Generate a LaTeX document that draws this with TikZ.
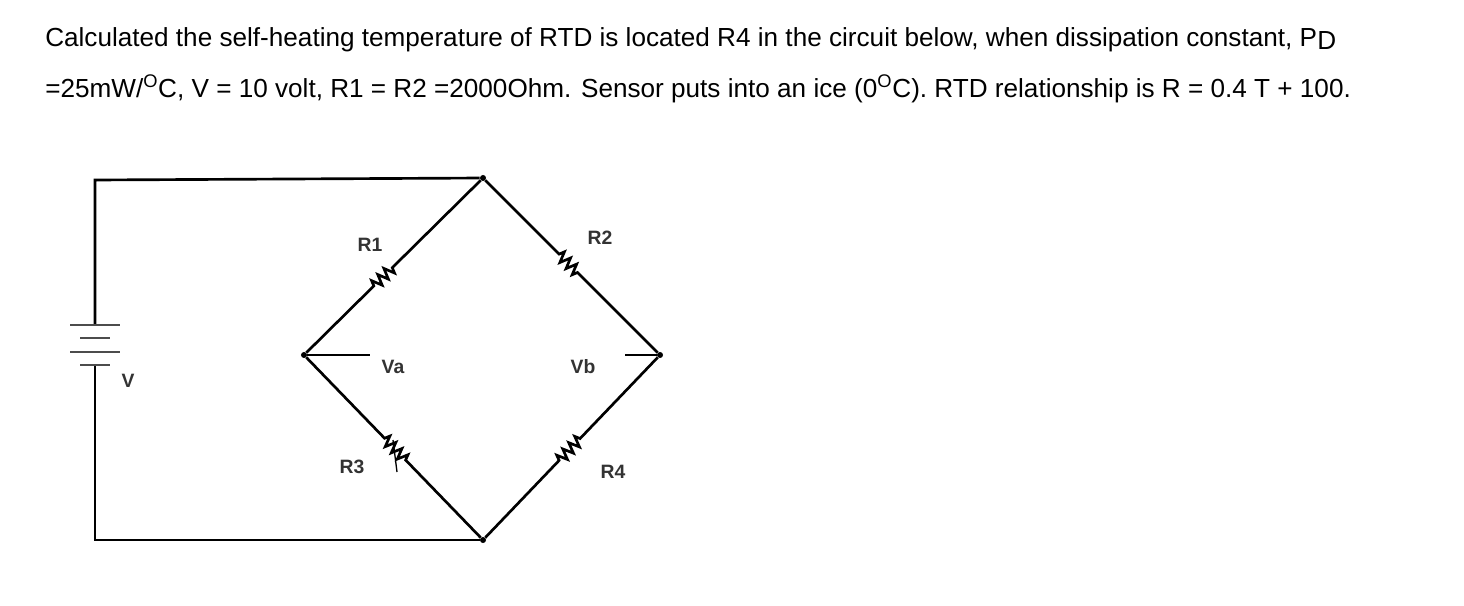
\documentclass[tikz,border=0pt]{standalone}
\usepackage{fontspec}
\setmainfont{Liberation Sans}
\usetikzlibrary{calc,decorations.pathmorphing}
\begin{document}
\begin{tikzpicture}[x=0.75pt,y=-0.75pt,
  w/.style={line width=2pt},
  zz/.style={decorate,decoration={zigzag,segment length=6.5pt,amplitude=4pt}},
  dot/.style={circle,fill,inner sep=1.6pt},
  lbl/.style={font=\fontsize{14.5}{16}\selectfont\bfseries,text=black!80},
  txt/.style={font=\fontsize{19.6}{22}\selectfont,anchor=west,inner sep=0}]
\useasboundingbox (0,0) rectangle (1464,606);
\node[txt] (l1) at (45,40) {Calculated the self-heating temperature of RTD is located R4 in the circuit below, when dissipation constant, P\raisebox{-0.2ex}{D}};
\node[txt] (l2) at (45,89) {=25mW/\textsuperscript{O}C, V = 10 volt, R1 = R2 =2000Ohm. Sensor puts into an ice (0\textsuperscript{O}C). RTD relationship is R = 0.4 T + 100.};
\node[dot] (t) at (483,178) {};
\node[dot] (l) at (304,355) {};
\node[dot] (r) at (660,355) {};
\node[dot] (b) at (483,540) {};
\coordinate (c1) at (95,180);
\coordinate (c2) at (95,540);
\coordinate (bt) at (95,325);
\coordinate (bb) at (95,365);
\draw[w] (t) -- (c1) -- (bt);
\draw[w] (b) -- (c2) -- (bb);
\draw[line width=2pt,black!70] (70,325) -- (120,325) (80,338) -- (110,338) (70,352) -- (120,352) (80,365) -- (110,365);
\draw[w] (l) -- ($(l)!0.39!(t)$) decorate[zz]{-- ($(l)!0.51!(t)$)} -- (t);
\draw[w] (t) -- ($(t)!0.43!(r)$) decorate[zz]{-- ($(t)!0.55!(r)$)} -- (r);
\draw[w] (l) -- ($(l)!0.45!(b)$) decorate[zz]{-- ($(l)!0.57!(b)$)} -- (b);
\draw[w] (b) -- ($(b)!0.43!(r)$) decorate[zz]{-- ($(b)!0.55!(r)$)} -- (r);
\draw[line width=1pt] (393,440) -- (397,472);
\coordinate (va) at (370,355);
\coordinate (vb) at (625,355);
\draw[w] (l) -- (va);
\draw[w] (r) -- (vb);
\node[lbl] (Va) at (393,367) {Va};
\node[lbl] (Vb) at (583,367) {Vb};
\node[lbl] (R1) at (370,245) {R1};
\node[lbl] (R2) at (600,238) {R2};
\node[lbl] (R3) at (352,467) {R3};
\node[lbl] (R4) at (613,472) {R4};
\node[lbl] (V) at (128,381) {V};
\end{tikzpicture}
\end{document}
